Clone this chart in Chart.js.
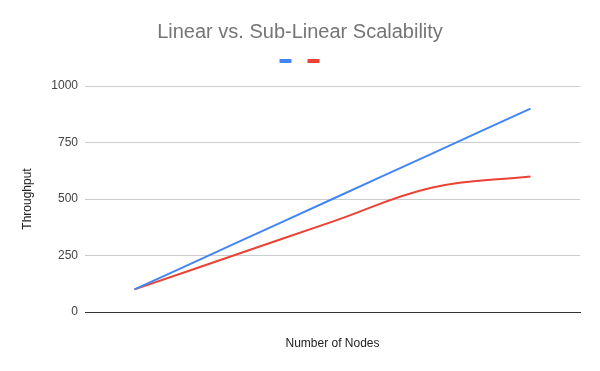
<!DOCTYPE html>
<html>
<head>
<meta charset="utf-8">
<script src="https://cdn.jsdelivr.net/npm/chart.js@4"></script>
<style>
  html, body { margin: 0; padding: 0; background: #fff; }
  #wrap { width: 600px; height: 371px; }
</style>
</head>
<body>
<div id="wrap"><canvas id="grafico"></canvas></div>
<script>
// datos
const nodos = ["1", "3", "5", "7", "9"];
const lineal = [100, 300, 500, 700, 900];
const subLineal = [100, 250, 400, 550, 600];
const ticksY = [0, 250, 500, 750, 1000];

const fuente = "'Liberation Sans', Arial, sans-serif";

// deja mas espacio bajo la leyenda sin moverla
const ajusteLeyenda = {
    id: "ajusteLeyenda",
    beforeLayout(chart) {
        const ley = chart.legend;
        if (ley && !ley._ajustado) {
            ley._ajustado = true;
            const fitOriginal = ley.fit;
            ley.fit = function () {
                fitOriginal.call(this);
                this.height = 42;
            };
        }
    }
};

new Chart(document.getElementById("grafico"), {
    type: "line",
    data: {
        labels: nodos,
        datasets: [{
            label: "Linear",
            data: lineal,
            borderColor: "#4285F4",
            backgroundColor: "#4285F4",
            borderWidth: 2,
            pointRadius: 0,
            tension: 0.4
        }, {
            label: "Sub-Linear",
            data: subLineal,
            borderColor: "#EA4335",
            backgroundColor: "#EA4335",
            borderWidth: 2,
            pointRadius: 0,
            tension: 0.4
        }]
    },
    plugins: [ajusteLeyenda],
    options: {
        responsive: true,
        maintainAspectRatio: false,
        animation: false,
        layout: { padding: { top: 0, right: 20, bottom: 0, left: 20 } },
        plugins: {
            title: {
                display: true,
                text: "Linear vs. Sub-Linear Scalability",
                color: "#757575",
                font: { family: fuente, size: 20, weight: "normal" },
                padding: { top: 20, bottom: 0 }
            },
            legend: {
                display: true,
                labels: {
                    boxWidth: 12,
                    boxHeight: 4,
                    padding: 15,
                    font: { family: fuente, size: 2 },
                    generateLabels: chart => chart.data.datasets.map((ds, i) => ({
                        text: "",
                        fillStyle: ds.borderColor,
                        strokeStyle: ds.borderColor,
                        lineWidth: 0,
                        datasetIndex: i
                    }))
                }
            },
            tooltip: { enabled: false }
        },
        scales: {
            x: {
                offset: true,
                grid: { display: false },
                border: { display: true, color: "#333333", width: 1 },
                ticks: { display: false },
                title: {
                    display: true,
                    text: "Number of Nodes",
                    color: "#222222",
                    font: { family: fuente, size: 12 },
                    padding: 20
                },
                afterFit: s => { s.height = 59; }
            },
            y: {
                min: 0,
                max: 1000,
                afterBuildTicks: s => { s.ticks = ticksY.map(v => ({ value: v })); },
                grid: { color: "#cccccc", drawTicks: false },
                border: { display: false },
                ticks: {
                    padding: 7,
                    color: "#444444",
                    font: { family: fuente, size: 12 },
                    callback: v => String(v)
                },
                title: {
                    display: true,
                    text: "Throughput",
                    color: "#222222",
                    font: { family: fuente, size: 12 },
                    padding: 0
                },
                afterFit: s => { s.width = 65; }
            }
        }
    }
});
</script>
</body>
</html>
